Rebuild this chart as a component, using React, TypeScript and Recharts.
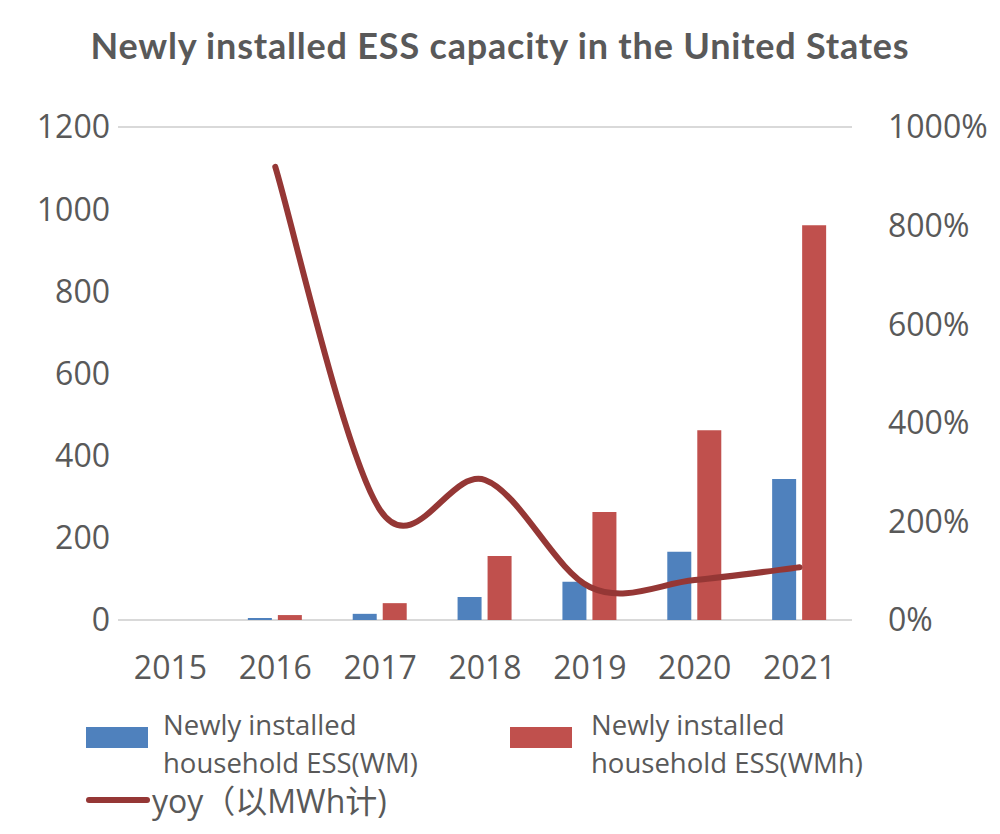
import React from 'react'
import {
  ComposedChart,
  Bar,
  Line,
  XAxis,
  YAxis,
  CartesianGrid,
} from 'recharts'

const years = ['2015', '2016', '2017', '2018', '2019', '2020', '2021']
const householdMW = [0, 5, 15, 56, 93, 166, 343]
const householdMWh = [0, 12, 41, 156, 263, 462, 961]
const yoy = [null, 919, 223, 284, 67, 81, 107]

const leftTicks = [0, 200, 400, 600, 800, 1000, 1200]
const rightTicks = [0, 200, 400, 600, 800, 1000]

const BLUE = '#4f81bd'
const RED = '#c0504d'
const DARK_RED = '#953735'
const TEXT = '#595959'

const data = years.map((year, i) => ({
  year,
  mw: householdMW[i],
  mwh: householdMWh[i],
  yoy: yoy[i],
}))

// Excel-like smoothed line (Catmull-Rom style bezier)
function smoothCurve(context: any) {
  let pts: number[][] = []
  return {
    areaStart() {},
    areaEnd() {},
    lineStart() {
      pts = []
    },
    point(x: number, y: number) {
      pts.push([+x, +y])
    },
    lineEnd() {
      if (!pts.length) return
      context.moveTo(pts[0][0], pts[0][1])
      for (let i = 0; i < pts.length - 1; i++) {
        const p0 = pts[i - 1] || pts[i]
        const p1 = pts[i]
        const p2 = pts[i + 1]
        const p3 = pts[i + 2] || p2
        context.bezierCurveTo(
          p1[0] + (p2[0] - p0[0]) / 6,
          p1[1] + (p2[1] - p0[1]) / 6,
          p2[0] - (p3[0] - p1[0]) / 6,
          p2[1] - (p3[1] - p1[1]) / 6,
          p2[0],
          p2[1]
        )
      }
    },
  }
}

const tickStyle = { fill: TEXT, fontSize: 32, fontFamily: 'Open Sans' }

export default function App() {
  return (
    <div
      style={{
        position: 'absolute',
        left: 0,
        top: 0,
        width: 1000,
        height: 834,
        background: '#fff',
        fontFamily: 'Open Sans',
        color: TEXT,
      }}
    >
      <div
        style={{
          position: 'absolute',
          top: 22,
          left: 0,
          width: 1000,
          textAlign: 'center',
          fontSize: 36,
          lineHeight: '46px',
          fontWeight: 700,
          fontFamily: 'Lato',
          letterSpacing: 0.8,
          color: TEXT,
        }}
      >
        Newly installed ESS capacity in the United States
      </div>
      <div style={{ position: 'absolute', left: 0, top: 0 }}>
        <ComposedChart
          width={1000}
          height={700}
          data={data}
          margin={{ top: 127, right: 0, bottom: 20, left: 0 }}
          barSize={24}
          barGap={6}
        >
          <CartesianGrid vertical={false} stroke="#d9d9d9" strokeWidth={2} />
          <XAxis
            dataKey="year"
            axisLine={false}
            tickLine={false}
            tick={tickStyle}
            height={60}
            tickMargin={30}
          />
          <YAxis
            yAxisId="left"
            domain={[0, 1200]}
            ticks={leftTicks}
            axisLine={false}
            tickLine={false}
            tickSize={0}
            tickMargin={8}
            width={118}
            tick={tickStyle}
          />
          <YAxis
            yAxisId="right"
            orientation="right"
            domain={[0, 1000]}
            ticks={rightTicks}
            axisLine={false}
            tickLine={false}
            tickSize={0}
            tickMargin={36}
            width={148}
            tick={{ ...tickStyle, textAnchor: 'start' }}
            tickFormatter={(v) => `${v}%`}
          />
          <Bar yAxisId="left" dataKey="mw" fill={BLUE} isAnimationActive={false} />
          <Bar yAxisId="left" dataKey="mwh" fill={RED} isAnimationActive={false} />
          <Line
            yAxisId="right"
            dataKey="yoy"
            type={smoothCurve as any}
            stroke={DARK_RED}
            strokeWidth={6}
            strokeLinecap="round"
            dot={false}
            activeDot={false}
            isAnimationActive={false}
          />
        </ComposedChart>
      </div>
      <div style={{ position: 'absolute', left: 86, top: 727, width: 62, height: 21, background: BLUE }} />
      <div style={{ position: 'absolute', left: 163, top: 706, fontSize: 27.5, lineHeight: '38px' }}>
        Newly installed
        <br />
        household ESS(WM)
      </div>
      <div style={{ position: 'absolute', left: 510, top: 727, width: 62, height: 21, background: RED }} />
      <div style={{ position: 'absolute', left: 591, top: 706, fontSize: 27.5, lineHeight: '38px' }}>
        Newly installed
        <br />
        household ESS(WMh)
      </div>
      <div
        style={{
          position: 'absolute',
          left: 86,
          top: 797,
          width: 64,
          height: 6,
          borderRadius: 3,
          background: DARK_RED,
        }}
      />
      <div
        style={{
          position: 'absolute',
          left: 152,
          top: 784,
          fontSize: 32,
          lineHeight: '34px',
          fontFamily: "'Open Sans', 'Noto Sans CJK SC'",
        }}
      >
        yoy（以MWh计)
      </div>
    </div>
  )
}
